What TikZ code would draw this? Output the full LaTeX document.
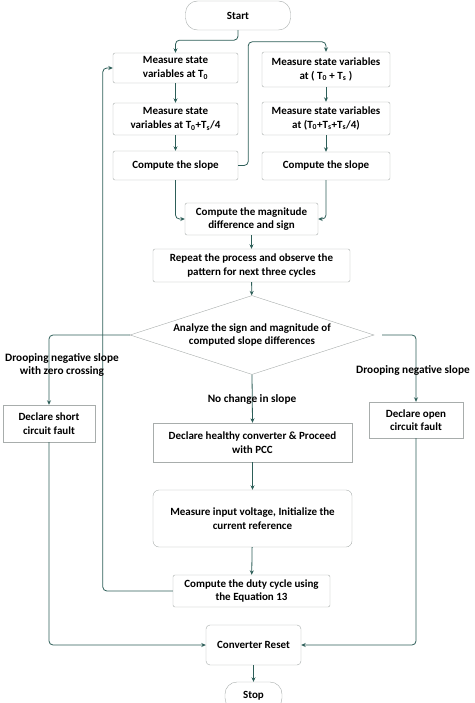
\documentclass[tikz,border=0pt]{standalone}
\usepackage{fontspec}
\setmainfont{Carlito}
\usepackage{xcolor}
\usepackage{tikz}
\usetikzlibrary{shapes.geometric, arrows.meta, positioning, calc}

\definecolor{flowline}{HTML}{2D5E58}
\definecolor{boxline}{HTML}{A8ADAC}

\tikzset{
  box/.style={draw=boxline, rounded corners=2pt, fill=white, align=center,
    font=\fontsize{11}{13.5}\selectfont\bfseries, inner sep=1pt},
  term/.style={box, rounded corners=12pt},
  flow/.style={draw=flowline, line width=0.8pt, rounded corners=4pt,
    -{Stealth[length=4.5pt,width=4pt]}},
  lbl/.style={font=\fontsize{11.3}{13.5}\selectfont\bfseries, align=center}
}

\begin{document}
\begin{tikzpicture}[x=1pt, y=-1pt]
  \useasboundingbox (0,0) rectangle (474,703);

  % Terminals
  \node[term, minimum width=105pt, minimum height=29pt] (start) at (238,15.5) {Start};
  \node[term, minimum width=57pt, minimum height=28pt] (stop) at (253.5,696) {Stop};

  % Left column
  \node[box, minimum width=125pt, minimum height=30pt] (meas0) at (175.5,68) {Measure state\\variables at T\textsubscript{0}};
  \node[box, minimum width=125pt, minimum height=32pt] (measq) at (175.5,119) {Measure state\\variables at T\textsubscript{0}+T\textsubscript{s}/4};
  \node[box, minimum width=125pt, minimum height=29pt] (slopeA) at (175.5,165.5) {Compute the slope};

  % Right column
  \node[box, minimum width=128pt, minimum height=35pt] (meas1) at (326,69.5) {Measure state variables\\at ( T\textsubscript{0} + T\textsubscript{s} )};
  \node[box, minimum width=128pt, minimum height=33pt] (meas1q) at (326,118.5) {Measure state variables\\at (T\textsubscript{0}+T\textsubscript{s}+T\textsubscript{s}/4)};
  \node[box, minimum width=128pt, minimum height=28pt] (slopeB) at (326,166) {Compute the slope};

  % Middle
  \node[box, minimum width=133pt, minimum height=32pt] (diff) at (251.5,219) {Compute the magnitude\\difference and sign};
  \node[box, minimum width=197pt, minimum height=33pt] (repeat) at (251.5,265.5) {Repeat the process and observe the\\pattern for next three cycles};
  \node[diamond, draw=boxline, fill=white, aspect=3.1, inner sep=-2pt, align=center,
    font=\fontsize{11}{13.5}\selectfont\bfseries, minimum width=244pt, minimum height=79pt] (check) at (252,335)
    {Analyze the sign and magnitude of\\computed slope differences};

  % Outcomes
  \node[box, rounded corners=0pt, minimum width=92pt, minimum height=37pt] (shortf) at (49,423.5) {Declare short\\circuit fault};
  \node[box, rounded corners=0pt, minimum width=94pt, minimum height=36pt] (openf) at (416,420) {Declare open\\circuit fault};
  \node[box, rounded corners=0pt, minimum width=199pt, minimum height=39pt] (healthy) at (252.5,442.5) {Declare healthy converter \& Proceed\\with PCC};
  \node[box, rounded corners=6pt, minimum width=199pt, minimum height=57pt] (vin) at (252.5,518.5) {Measure input voltage, Initialize the\\current reference};
  \node[box, minimum width=157pt, minimum height=32pt] (duty) at (251.5,591) {Compute the duty cycle using\\the Equation 13};
  \node[box, rounded corners=4pt, minimum width=95pt, minimum height=40pt] (reset) at (253.5,645) {Converter Reset};

  % Connectors
  \draw[flow] (start.south) -- ++(0,10) -| (meas0.north);
  \draw[flow] (meas0) -- (measq);
  \draw[flow] (measq) -- (slopeA);
  \draw[flow] (slopeA.east) -- ++(10,0) |- ($(meas1.north)+(0,-10)$) -- (meas1.north);
  \draw[flow] (meas1) -- (meas1q);
  \draw[flow] (meas1q) -- (slopeB);
  \draw[flow] (slopeA.south) |- (diff.west);
  \draw[flow] (slopeB.south) |- (diff.east);
  \draw[flow] (diff) -- (repeat);
  \draw[flow] (repeat) -- (check);
  \draw[flow] (check.west) -| (shortf.north);
  \draw[flow] ([xshift=8pt]check.east) -| (openf.north);
  \draw[flow] (check.south) -- (healthy.north);
  \draw[flow] (healthy) -- (vin);
  \draw[flow] (vin) -- (duty);
  \draw[flow] (duty.west) -- ++(-70,0) |- (meas0.west);
  \draw[flow] (shortf.south) |- (reset.west);
  \draw[flow] (openf.south) |- (reset.east);
  \draw[flow] (reset) -- (stop);

  % Branch labels
  \node[lbl] (lblshort) at (62,365) {Drooping negative slope\\with zero crossing};
  \node[lbl] (lblopen) at (413,370) {Drooping negative slope};
  \node[lbl] (lblok) at (252,399) {No change in slope};
\end{tikzpicture}
\end{document}
